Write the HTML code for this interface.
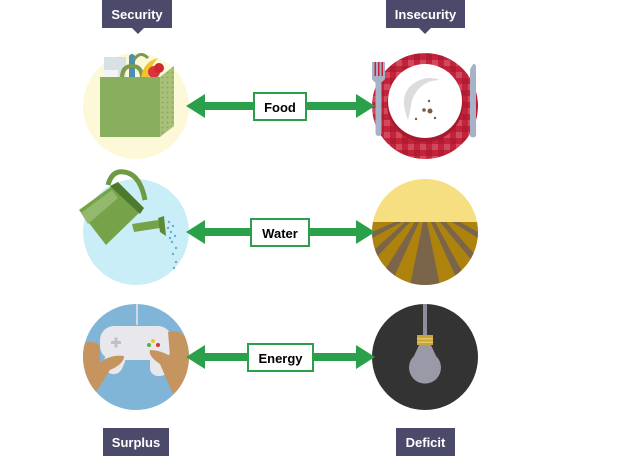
<!DOCTYPE html>
<html><head><meta charset="utf-8"><style>
html,body{margin:0;padding:0;background:#fff}
svg{display:block}
text{font-family:"Liberation Sans",Arial,sans-serif;font-weight:bold}
</style></head><body>
<svg width="624" height="456" viewBox="0 0 624 456" xmlns="http://www.w3.org/2000/svg">
<defs>
<pattern id="chk" width="12" height="12" patternUnits="userSpaceOnUse">
<rect width="12" height="12" fill="#c4223a"/><rect width="6" height="6" fill="#d04a5e"/><rect x="6" y="6" width="6" height="6" fill="#b01c31"/>
</pattern>
<pattern id="dots" width="5" height="5" patternUnits="userSpaceOnUse">
<rect width="5" height="5" fill="#a9c078"/><circle cx="2.5" cy="2.5" r="1" fill="#8aa85a"/>
</pattern>
<clipPath id="c2"><circle cx="425" cy="232" r="53"/></clipPath>
<clipPath id="c3"><circle cx="136" cy="357" r="53"/></clipPath>
</defs>

<rect x="102" y="0" width="70" height="28" fill="#4b4a6b"/>
<polygon points="132,28 144,28 138,34" fill="#4b4a6b"/>
<text x="137" y="19" fill="#fff" font-size="13" text-anchor="middle">Security</text>
<rect x="386" y="0" width="79" height="28" fill="#4b4a6b"/>
<polygon points="419,28 431,28 425,34" fill="#4b4a6b"/>
<text x="425.5" y="19" fill="#fff" font-size="13" text-anchor="middle">Insecurity</text>

<rect x="103" y="428" width="66" height="28" fill="#4b4a6b"/>
<text x="136" y="447" fill="#fff" font-size="13" text-anchor="middle">Surplus</text>
<rect x="396" y="428" width="59" height="28" fill="#4b4a6b"/>
<text x="425.5" y="447" fill="#fff" font-size="13" text-anchor="middle">Deficit</text>

<circle cx="136" cy="106" r="53" fill="#fcf8d8"/>
<rect x="104" y="57" width="22" height="22" fill="#d8e2e6"/>
<rect x="104" y="70" width="14" height="9" fill="#f2f4f5"/>
<path d="M129 77 L129 56 Q132 52 135 56 L135 77Z" fill="#4a8fb0"/>
<path d="M122 78 Q122 66 132 66 Q142 66 142 78" fill="none" stroke="#7a9b4c" stroke-width="4"/>
<path d="M134 60 Q140 50 148 58" fill="none" stroke="#7a9b4c" stroke-width="3"/>
<path d="M141 78 Q143 62 158 58 Q150 66 149 78Z" fill="#f2c32a"/>
<circle cx="154" cy="72" r="6" fill="#d9353a"/><circle cx="159" cy="68" r="5" fill="#c92a30"/>
<rect x="100" y="77" width="60" height="60" fill="#88af5e"/>
<polygon points="160,77 174,66 174,126 160,137" fill="url(#dots)"/>

<circle cx="425" cy="106" r="53" fill="url(#chk)"/>
<circle cx="425" cy="104" r="38" fill="#a8192c"/>
<circle cx="425" cy="101" r="37" fill="#fff"/>
<path d="M408 120 Q396 90 420 80 Q430 76 440 80 Q420 80 412 100 Q410 112 408 120Z" fill="#dcdcdc"/>
<circle cx="430" cy="111" r="2.5" fill="#7a5a40"/><circle cx="424" cy="110" r="1.8" fill="#7a5a40"/><circle cx="429" cy="101" r="1.2" fill="#7a5a40"/><circle cx="416" cy="119" r="1.2" fill="#7a5a40"/><circle cx="435" cy="118" r="1.2" fill="#7a5a40"/>
<rect x="375.5" y="80" width="6" height="56" rx="3" fill="#a8b2c6"/>
<path d="M372 62 L372 79 Q378 88 385 79 L385 62" fill="#a8b2c6"/>
<rect x="374.5" y="62" width="1.5" height="14" fill="#c4223a"/><rect x="378" y="62" width="1.5" height="14" fill="#c4223a"/><rect x="381.5" y="62" width="1.5" height="14" fill="#c4223a"/>
<path d="M470 136 L470 70 Q474 60 476 66 L476 136 Q473 139 470 136Z" fill="#a8b2c6"/>

<circle cx="136" cy="232" r="53" fill="#c9eef7"/>
<path d="M108 185 Q112 170 124 172 Q140 174 145 200" fill="none" stroke="#6e9a44" stroke-width="5"/>
<polygon points="79,210 112,186 140,212 106,245" fill="#76a34a"/>
<polygon points="81,213 112,190 118,198 88,224" fill="#94b86c"/>
<polygon points="110,186 118,182 144,208 140,214" fill="#4e7a30"/>
<polygon points="132,224 158,220 160,228 134,232" fill="#76a34a"/>
<polygon points="158,218 164,216 166,236 160,232" fill="#5e8a36"/>
<g fill="#6aa8d8"><circle cx="169" cy="222" r="1.2"/><circle cx="173" cy="226" r="1.2"/><circle cx="171" cy="232" r="1.2"/><circle cx="175" cy="236" r="1.2"/><circle cx="172" cy="242" r="1.2"/><circle cx="176" cy="248" r="1.2"/><circle cx="173" cy="254" r="1.2"/><circle cx="176" cy="262" r="1.2"/><circle cx="168" cy="228" r="1.2"/><circle cx="170" cy="238" r="1.2"/><circle cx="174" cy="268" r="1.2"/></g>

<g clip-path="url(#c2)">
<rect x="372" y="179" width="106" height="44" fill="#f6df80"/>
<rect x="372" y="222" width="106" height="64" fill="#ad830e"/>
<g fill="#7a644a">
<polygon points="423,222 427,222 440,286 410,286"/>
<polygon points="415,222 419,222 390,286 375,286"/>
<polygon points="431,222 435,222 470,286 460,286"/>
<polygon points="405,222 410,222 372,262 372,252"/>
<polygon points="440,222 446,222 478,258 478,268"/>
<polygon points="395,222 402,222 372,238 372,232"/>
<polygon points="452,222 460,222 478,232 478,238"/>
</g>
</g>

<circle cx="136" cy="357" r="53" fill="#80b5d7"/>
<g clip-path="url(#c3)">
<path d="M137 304 L137 325" stroke="#e8e8ec" stroke-width="1.5" fill="none"/>
<rect x="100" y="326" width="72" height="34" rx="14" fill="#e8e8ec"/>
<rect x="104" y="350" width="20" height="24" rx="9" fill="#e8e8ec" transform="rotate(25 114 362)"/>
<rect x="150" y="350" width="18" height="26" rx="8" fill="#e8e8ec"/>
<rect x="111" y="341" width="10" height="3" fill="#c0c0c6"/><rect x="114.5" y="337.5" width="3" height="10" fill="#c0c0c6"/>
<circle cx="149" cy="345" r="2" fill="#5ab046"/><circle cx="153" cy="341" r="2" fill="#f2c32a"/><circle cx="158" cy="345" r="2" fill="#d9353a"/>
<path d="M82 345 Q92 338 100 346 L100 362 Q112 354 124 356 Q124 364 110 370 L96 392 L82 400Z" fill="#c6955f"/>
<path d="M190 340 Q178 328 168 332 L170 356 Q160 350 150 350 Q148 356 160 364 L172 392 L190 400Z" fill="#c6955f"/>
</g>

<circle cx="425" cy="357" r="53" fill="#333333"/>
<rect x="423" y="304" width="4" height="32" fill="#8d8d9c"/>
<rect x="417" y="335" width="16" height="10" fill="#c9a43a"/>
<rect x="417" y="338" width="16" height="1.5" fill="#e6c65c"/><rect x="417" y="341.5" width="16" height="1.5" fill="#e6c65c"/>
<path d="M419 345 L414 356 A16 16 0 1 0 436 356 L431 345Z" fill="#9a99a8"/>

<g fill="#2ba04a">
<polygon points="186,106 205,94 205,102 356,102 356,94 375,106 356,118 356,110 205,110 205,118"/>
<polygon points="186,232 205,220 205,228 356,228 356,220 375,232 356,244 356,236 205,236 205,244"/>
<polygon points="186,357 205,345 205,353 356,353 356,345 375,357 356,369 356,361 205,361 205,369"/>
</g>
<g fill="#fff" stroke="#2ba04a" stroke-width="2">
<rect x="254" y="93" width="52" height="27"/>
<rect x="251" y="219" width="58" height="27"/>
<rect x="248" y="344" width="65" height="27"/>
</g>
<g font-size="13" fill="#000" text-anchor="middle">
<text x="280" y="112">Food</text>
<text x="280" y="238">Water</text>
<text x="280.5" y="363">Energy</text>
</g>
</svg>
</body></html>
